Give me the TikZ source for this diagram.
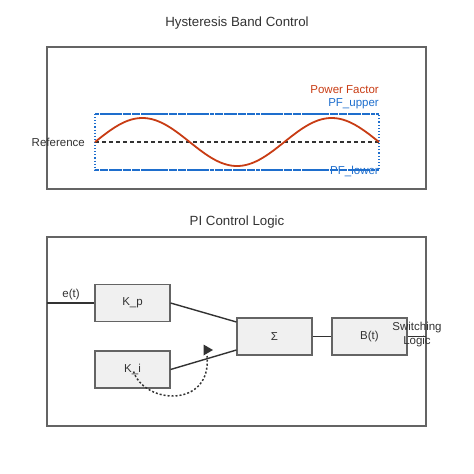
\documentclass[tikz,border=0pt]{standalone}
\usepackage{fontspec}
\setmainfont{Liberation Sans}
\usetikzlibrary{arrows.meta}
\definecolor{pfred}{RGB}{200,60,20}
\definecolor{pfblue}{RGB}{30,110,205}
\definecolor{panelgray}{RGB}{100,100,100}
\definecolor{boxfill}{RGB}{240,240,240}
\definecolor{txt}{RGB}{50,50,50}
\begin{document}
\begin{tikzpicture}[x=1pt,y=-1pt,
  panel/.style={draw=panelgray,line width=1.2pt},
  title/.style={font=\fontsize{13.3}{15}\selectfont,text=txt,inner sep=0},
  lbl/.style={font=\fontsize{11.5}{13}\selectfont,inner sep=0},
  blk/.style={draw=panelgray,fill=boxfill,line width=1.1pt,minimum width=75pt,minimum height=37pt,inner sep=0,font=\fontsize{11.5}{13}\selectfont,text=txt},
  wire/.style={draw=txt,line width=1.4pt}]
\useasboundingbox (0,0) rectangle (474,474);
% top panel
\node[title] (t1) at (237,23) {Hysteresis Band Control};
\draw[panel] (47,47) rectangle (426,189);
\draw[pfblue,dotted,line width=1.1pt] (95,114) rectangle (379,170);
\draw[pfblue,line width=1.2pt,dash pattern=on 4pt off 0.6pt] (95,114) -- (379,114);
\draw[pfblue,line width=1.2pt,dash pattern=on 4pt off 0.6pt] (95,170) -- (379,170);
\coordinate (r0) at (95,142);
\coordinate (r1) at (379,142);
\draw[txt,line width=1.3pt,dash pattern=on 4pt off 3pt] (r0) -- (r1);
\draw[pfred,line width=1.8pt,domain=0:284,samples=150,smooth] plot (\x+95,{142-24*sin(\x/284*540)});
\node[lbl,text=pfred,anchor=east] (pf) at (379,90) {Power Factor};
\node[lbl,text=pfblue,anchor=east] (pfu) at (379,104) {PF\_upper};
\node[lbl,text=pfblue,anchor=east] (pfl) at (379,171) {PF\_lower};
\node[lbl,text=txt,anchor=east] (ref) at (85,142) {Reference};
% bottom panel
\node[title] (t2) at (237,222) {PI Control Logic};
\draw[panel] (47,237) rectangle (426,426);
\node[blk] (kp) at (132.5,303) {K\_p};
\node[blk] (ki) at (132.5,369.5) {K\_i};
\node[blk] (sum) at (274.5,336.5) {Σ};
\node[blk] (bt) at (369.5,336.5) {B(t)};
\coordinate (ein) at (47,303);
\coordinate (out) at (426,336.5);
\draw[wire] (ein) -- (kp.west);
\node[lbl,text=txt] (et) at (71,295) {e(t)};
\draw[wire] (kp.east) -- (sum.west |- 0,322);
\draw[wire] (ki.east) -- (sum.west |- 0,350);
\draw[wire] (sum) -- (bt);
\draw[wire] (bt.east) -- (out);
\node[lbl,text=txt,align=center,font=\fontsize{11.5}{14}\selectfont] (sw) at (417,335) {Switching\\Logic};
\coordinate (arr) at (207,356);
\draw[txt,line width=1.5pt,dash pattern=on 2pt off 2pt] (ki.center) ++(1,2) .. controls (145,405) and (212,408) .. (arr);
\fill[txt] (203.5,344.5) -- (213,350) -- (203.5,355.5) -- cycle;
\end{tikzpicture}
\end{document}
